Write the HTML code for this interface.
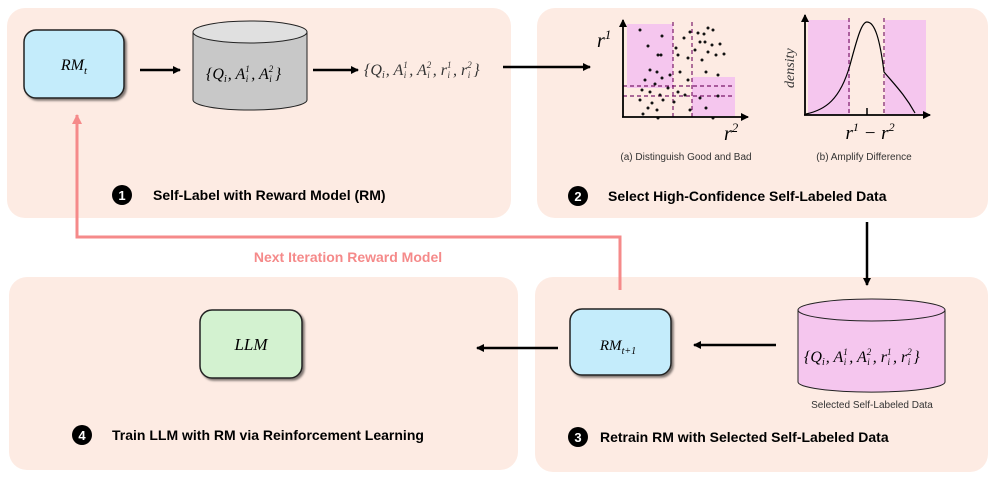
<!DOCTYPE html>
<html><head><style>
body{margin:0;background:#fff;}
svg text{font-family:"Liberation Sans",sans-serif;}
.m{font-family:"Liberation Serif",serif;font-style:italic;}
</style></head><body>
<svg width="1000" height="482" viewBox="0 0 1000 482" xmlns="http://www.w3.org/2000/svg">
<defs>
<marker id="a" markerWidth="8" markerHeight="8" refX="7" refY="4" orient="auto" markerUnits="userSpaceOnUse"><path d="M0,0 L8,4 L0,8 Z" fill="#000"/></marker>
<marker id="p" markerWidth="10" markerHeight="10" refX="9" refY="5" orient="auto" markerUnits="userSpaceOnUse"><path d="M0,0 L10,5 L0,10 Z" fill="#f58a8a"/></marker>
<filter id="s"><feDropShadow dx="2" dy="2" stdDeviation="1" flood-opacity="0.5"/></filter>
</defs>
<rect x="7" y="8" width="504" height="210" rx="18" fill="#fdebe3"/>
<rect x="537" y="8" width="451" height="210" rx="18" fill="#fdebe3"/>
<rect x="535" y="277" width="453" height="195" rx="18" fill="#fdebe3"/>
<rect x="9" y="277" width="509" height="193" rx="18" fill="#fdebe3"/>

<!-- panel 1 -->
<rect x="24" y="30" width="100" height="68" rx="12" fill="#c4ecfb" stroke="#222" stroke-width="1.5" filter="url(#s)"/>
<text x="74" y="70" class="m" font-size="16" text-anchor="middle">RM<tspan font-size="11" dy="4">t</tspan></text>
<line x1="140" y1="70" x2="180" y2="70" stroke="#000" stroke-width="2.5" marker-end="url(#a)"/>
<path d="M193,32 L193,100 A57,10 0 0 0 307,100 L307,32" fill="#c8c8c8" stroke="#222" stroke-width="1"/>
<ellipse cx="250" cy="32" rx="57" ry="11" fill="#e0e0e0" stroke="#222" stroke-width="1"/>
<text x="206" y="79" class="m" font-size="16">{Q<tspan font-size="10" dy="3">i</tspan><tspan dy="-3" dx="1">, A</tspan><tspan font-size="9" dy="-7">1</tspan><tspan font-size="9" dx="-4" dy="10">i</tspan><tspan dy="-3" dx="3">, A</tspan><tspan font-size="9" dy="-7">2</tspan><tspan font-size="9" dx="-4" dy="10">i</tspan><tspan dy="-3" dx="3">}</tspan></text>
<line x1="313" y1="70" x2="358" y2="70" stroke="#000" stroke-width="2.5" marker-end="url(#a)"/>
<text x="364" y="75" class="m" font-size="16" fill="#333">{Q<tspan font-size="10" dy="3">i</tspan><tspan dy="-3" dx="1">, A</tspan><tspan font-size="9" dy="-7">1</tspan><tspan font-size="9" dx="-4" dy="10">i</tspan><tspan dy="-3" dx="3">, A</tspan><tspan font-size="9" dy="-7">2</tspan><tspan font-size="9" dx="-4" dy="10">i</tspan><tspan dy="-3" dx="3">, r</tspan><tspan font-size="9" dy="-7">1</tspan><tspan font-size="9" dx="-4" dy="10">i</tspan><tspan dy="-3" dx="3">, r</tspan><tspan font-size="9" dy="-7">2</tspan><tspan font-size="9" dx="-4" dy="10">i</tspan><tspan dy="-3" dx="3">}</tspan></text>
<line x1="503" y1="67" x2="590" y2="67" stroke="#000" stroke-width="2.5" marker-end="url(#a)"/>
<circle cx="122" cy="195" r="10" fill="#000"/>
<text x="122" y="200" font-size="13" font-weight="bold" fill="#fff" text-anchor="middle">1</text>
<text x="153" y="200" font-size="14" font-weight="bold">Self-Label with Reward Model (RM)</text>

<!-- panel 2 scatter -->
<rect x="627" y="24" width="46" height="64" fill="#f5c6ee"/>
<rect x="692" y="77" width="43" height="39" fill="#f5c6ee"/>
<g stroke="#7a1a6a" stroke-width="1.2" stroke-dasharray="4,3">
<line x1="673" y1="22" x2="673" y2="117"/><line x1="692" y1="22" x2="692" y2="117"/>
<line x1="623" y1="86" x2="735" y2="86"/><line x1="623" y1="96" x2="735" y2="96"/>
</g>
<g fill="#111">
<circle cx="640" cy="30" r="1.5"/><circle cx="662" cy="36" r="1.5"/><circle cx="648" cy="46" r="1.5"/><circle cx="658" cy="55" r="1.5"/><circle cx="661" cy="55" r="1.5"/><circle cx="650" cy="70" r="1.5"/><circle cx="657" cy="72" r="1.5"/><circle cx="645" cy="80" r="1.5"/><circle cx="655" cy="84" r="1.5"/><circle cx="662" cy="78" r="1.5"/><circle cx="670" cy="75" r="1.5"/><circle cx="642" cy="90" r="1.5"/><circle cx="650" cy="92" r="1.5"/><circle cx="660" cy="95" r="1.5"/><circle cx="668" cy="88" r="1.5"/><circle cx="640" cy="100" r="1.5"/><circle cx="652" cy="103" r="1.5"/><circle cx="663" cy="100" r="1.5"/><circle cx="648" cy="108" r="1.5"/><circle cx="657" cy="110" r="1.5"/><circle cx="643" cy="114" r="1.5"/><circle cx="658" cy="118" r="1.5"/>
<circle cx="684" cy="38" r="1.5"/><circle cx="690" cy="32" r="1.5"/><circle cx="698" cy="33" r="1.5"/><circle cx="704" cy="34" r="1.5"/><circle cx="708" cy="28" r="1.5"/><circle cx="713" cy="30" r="1.5"/><circle cx="700" cy="42" r="1.5"/><circle cx="705" cy="42" r="1.5"/><circle cx="712" cy="45" r="1.5"/><circle cx="720" cy="44" r="1.5"/><circle cx="695" cy="50" r="1.5"/><circle cx="708" cy="52" r="1.5"/><circle cx="716" cy="55" r="1.5"/><circle cx="724" cy="54" r="1.5"/><circle cx="702" cy="60" r="1.5"/><circle cx="688" cy="58" r="1.5"/><circle cx="678" cy="55" r="1.5"/><circle cx="676" cy="48" r="1.5"/><circle cx="680" cy="72" r="1.5"/><circle cx="688" cy="80" r="1.5"/><circle cx="706" cy="72" r="1.5"/><circle cx="718" cy="75" r="1.5"/><circle cx="678" cy="92" r="1.5"/><circle cx="685" cy="95" r="1.5"/><circle cx="700" cy="98" r="1.5"/><circle cx="718" cy="96" r="1.5"/><circle cx="690" cy="110" r="1.5"/><circle cx="706" cy="108" r="1.5"/><circle cx="713" cy="118" r="1.5"/><circle cx="674" cy="102" r="1.5"/>
</g>
<g stroke="#000" stroke-width="1.8">
<line x1="623" y1="117" x2="623" y2="20" marker-end="url(#a)"/>
<line x1="622" y1="117" x2="748" y2="117" marker-end="url(#a)"/>
</g>
<text x="597" y="47" class="m" font-size="20">r<tspan font-size="13" dy="-8">1</tspan></text>
<text x="724" y="140" class="m" font-size="20">r<tspan font-size="13" dy="-8">2</tspan></text>
<text x="686" y="160" font-size="10" fill="#333" text-anchor="middle">(a) Distinguish Good and Bad</text>

<!-- density -->
<rect x="808" y="20" width="42" height="95" fill="#f5c6ee"/>
<rect x="885" y="20" width="41" height="95" fill="#f5c6ee"/>
<g stroke="#7a1a6a" stroke-width="1.2" stroke-dasharray="4,3">
<line x1="849" y1="18" x2="849" y2="115"/><line x1="884" y1="18" x2="884" y2="115"/>
</g>
<path d="M806,114 C825,110 840,100 850,65 C858,35 862,22 867,22 C875,22 880,40 884,72 C895,85 905,95 915,113" fill="none" stroke="#000" stroke-width="1.2"/>
<line x1="867" y1="115" x2="867" y2="108" stroke="#000" stroke-width="1.5"/>
<g stroke="#000" stroke-width="1.8">
<line x1="805" y1="115" x2="805" y2="15" marker-end="url(#a)"/>
<line x1="804" y1="115" x2="930" y2="115" marker-end="url(#a)"/>
</g>
<text x="0" y="0" class="m" font-size="14" fill="#333" transform="translate(794,88) rotate(-90)">density</text>
<text x="870" y="139" class="m" font-size="19" text-anchor="middle">r<tspan font-size="12" dy="-8">1</tspan><tspan dy="8"> − r</tspan><tspan font-size="12" dy="-8">2</tspan></text>
<text x="864" y="160" font-size="10" fill="#333" text-anchor="middle">(b) Amplify Difference</text>
<circle cx="578" cy="196" r="10" fill="#000"/>
<text x="578" y="201" font-size="13" font-weight="bold" fill="#fff" text-anchor="middle">2</text>
<text x="608" y="201" font-size="14" font-weight="bold">Select High-Confidence Self-Labeled Data</text>

<!-- feedback -->
<path d="M620,290 L620,237 L77,237 L77,115" fill="none" stroke="#f58a8a" stroke-width="3" marker-end="url(#p)"/>
<text x="348" y="262" font-size="14" font-weight="bold" fill="#f58a8a" text-anchor="middle">Next Iteration Reward Model</text>
<line x1="867" y1="222" x2="867" y2="285" stroke="#000" stroke-width="2.5" marker-end="url(#a)"/>

<!-- panel 3 -->
<path d="M798,310 L798,382 A73,10 0 0 0 945,382 L945,310" fill="#f5c6ee" stroke="#222" stroke-width="1"/>
<ellipse cx="871.5" cy="310" rx="73.5" ry="11" fill="#f5c6ee" stroke="#222" stroke-width="1"/>
<text x="804" y="362" class="m" font-size="16">{Q<tspan font-size="10" dy="3">i</tspan><tspan dy="-3" dx="1">, A</tspan><tspan font-size="9" dy="-7">1</tspan><tspan font-size="9" dx="-4" dy="10">i</tspan><tspan dy="-3" dx="3">, A</tspan><tspan font-size="9" dy="-7">2</tspan><tspan font-size="9" dx="-4" dy="10">i</tspan><tspan dy="-3" dx="3">, r</tspan><tspan font-size="9" dy="-7">1</tspan><tspan font-size="9" dx="-4" dy="10">i</tspan><tspan dy="-3" dx="3">, r</tspan><tspan font-size="9" dy="-7">2</tspan><tspan font-size="9" dx="-4" dy="10">i</tspan><tspan dy="-3" dx="3">}</tspan></text>
<text x="872" y="408" font-size="10" fill="#333" text-anchor="middle">Selected Self-Labeled Data</text>
<line x1="776" y1="345" x2="694" y2="345" stroke="#000" stroke-width="2.5" marker-end="url(#a)"/>
<rect x="570" y="309" width="101" height="66" rx="12" fill="#c4ecfb" stroke="#222" stroke-width="1.5" filter="url(#s)"/>
<text x="618" y="350" class="m" font-size="15" text-anchor="middle">RM<tspan font-size="10" dy="4">t+1</tspan></text>
<line x1="558" y1="348" x2="477" y2="348" stroke="#000" stroke-width="2.5" marker-end="url(#a)"/>
<circle cx="578" cy="437" r="10" fill="#000"/>
<text x="578" y="442" font-size="13" font-weight="bold" fill="#fff" text-anchor="middle">3</text>
<text x="600" y="442" font-size="14" font-weight="bold">Retrain RM with Selected Self-Labeled Data</text>

<!-- panel 4 -->
<rect x="200" y="310" width="102" height="68" rx="12" fill="#d3f2d0" stroke="#222" stroke-width="1.5" filter="url(#s)"/>
<text x="251" y="350" class="m" font-size="17" text-anchor="middle">LLM</text>
<circle cx="82" cy="435" r="10" fill="#000"/>
<text x="82" y="440" font-size="13" font-weight="bold" fill="#fff" text-anchor="middle">4</text>
<text x="112" y="440" font-size="14" font-weight="bold">Train LLM with RM via Reinforcement Learning</text>
</svg>
</body></html>
